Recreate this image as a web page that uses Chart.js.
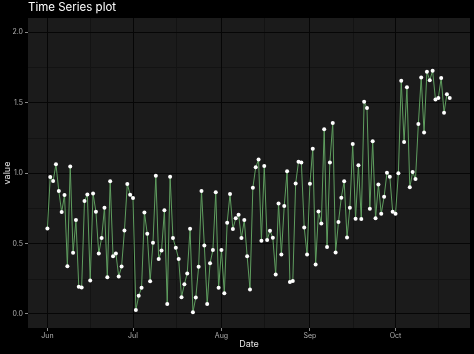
<!DOCTYPE html>
<html>
<head>
<meta charset="utf-8">
<script src="https://cdn.jsdelivr.net/npm/chart.js@4"></script>
<style>
  html, body { margin: 0; padding: 0; background: #000; }
  #wrap { width: 474px; height: 354px; }
</style>
</head>
<body>
<div id="wrap"><canvas id="chart" width="474" height="354"></canvas></div>
<script>
// daily values, one per day starting Jun 1
const values = [
  0.607, 0.972, 0.943, 1.062, 0.872, 0.723, 0.844, 0.339, 1.047, 0.434,
  0.666, 0.192, 0.187, 0.801, 0.848, 0.237, 0.855, 0.725, 0.429, 0.538,
  0.754, 0.261, 0.941, 0.410, 0.429, 0.265, 0.336, 0.592, 0.922, 0.846,
  0.822, 0.028, 0.128, 0.185, 0.720, 0.569, 0.232, 0.505, 0.981, 0.389,
  0.450, 0.735, 0.071, 0.974, 0.538, 0.469, 0.389, 0.118, 0.211, 0.287,
  0.604, 0.012, 0.116, 0.334, 0.872, 0.486, 0.071, 0.360, 0.453, 0.863,
  0.185, 0.453, 0.147, 0.647, 0.851, 0.602, 0.678, 0.704, 0.538, 0.666,
  0.410, 0.174, 0.895, 1.040, 1.095, 0.520, 1.050, 0.525, 0.590, 0.540,
  0.280, 0.783, 0.422, 0.766, 1.013, 0.226, 0.233, 0.925, 1.079, 1.074,
  0.613, 0.421, 0.923, 1.172, 0.350, 0.726, 0.641, 1.310, 0.474, 1.074,
  1.355, 0.435, 0.652, 0.825, 0.941, 0.543, 0.754, 1.206, 0.675, 1.055,
  0.673, 1.505, 1.462, 0.746, 1.225, 0.678, 0.919, 0.711, 0.832, 1.002,
  0.974, 0.725, 0.711, 0.998, 1.654, 1.220, 1.609, 0.898, 1.007, 0.957,
  1.348, 1.678, 1.287, 1.718, 1.659, 1.725, 1.521, 1.533, 1.675, 1.427,
  1.559, 1.533,
]

// month starts as day offsets from Jun 1
const monthTicks = [0, 30, 61, 92, 122]
const monthLabels = ['Jun', 'Jul', 'Aug', 'Sep', 'Oct']
const midMonthDays = [15, 45, 76, 107, 137]

const yTicks = [0, 0.5, 1, 1.5, 2]
const yMinor = [0.25, 0.75, 1.25, 1.75]

const points = values.map((v, i) => ({ x: i, y: v }))

const FONT = 'Inter'

// panel background, minor grid and title
const panelPlugin = {
  id: 'panel',
  beforeDraw(chart) {
    const { ctx, chartArea: a } = chart
    ctx.save()
    ctx.fillStyle = '#000'
    ctx.fillRect(0, 0, chart.width, chart.height)
    ctx.fillStyle = '#1b1b1b'
    ctx.fillRect(a.left, a.top, a.right - a.left, a.bottom - a.top)

    // minor grid lines
    const xs = chart.scales.x
    const ys = chart.scales.y
    ctx.strokeStyle = '#131313'
    ctx.lineWidth = 1
    ctx.beginPath()
    for (let d of midMonthDays) {
      const px = Math.round(xs.getPixelForValue(d)) + 0.5
      if (px < a.left || px > a.right) continue
      ctx.moveTo(px, a.top)
      ctx.lineTo(px, a.bottom)
    }
    for (let v of yMinor) {
      const py = Math.round(ys.getPixelForValue(v)) + 0.5
      ctx.moveTo(a.left, py)
      ctx.lineTo(a.right, py)
    }
    ctx.stroke()

    // title
    ctx.fillStyle = '#ffffff'
    ctx.font = `11.5px ${FONT}`
    ctx.textBaseline = 'middle'
    ctx.textAlign = 'left'
    ctx.fillText('Time Series plot', a.left, 8)
    ctx.restore()
  },
}

new Chart(document.getElementById('chart'), {
  type: 'line',
  data: {
    datasets: [
      {
        label: 'value',
        data: points,
        borderColor: '#5f9e5f',
        borderWidth: 1,
        pointRadius: 2,
        pointBackgroundColor: '#ffffff',
        pointBorderWidth: 0,
        tension: 0,
      },
    ],
  },
  options: {
    responsive: false,
    animation: false,
    layout: { padding: { left: 0, right: 4, top: 18, bottom: 0 } },
    plugins: {
      legend: { display: false },
      tooltip: { enabled: false },
      title: { display: false },
    },
    scales: {
      x: {
        type: 'linear',
        min: -6.8,
        max: 148.1,
        afterBuildTicks: (scale) => {
          scale.ticks = monthTicks.map((v) => ({ value: v }))
        },
        afterFit: (scale) => {
          scale.height = 26
        },
        ticks: {
          autoSkip: false,
          maxRotation: 0,
          padding: 1,
          color: '#b0b0b0',
          font: { family: FONT, size: 7 },
          callback: (value, index) => monthLabels[index],
        },
        grid: {
          color: '#060606',
          lineWidth: 1,
          tickColor: '#8a8a8a',
          tickLength: 3,
        },
        border: { display: false },
        title: {
          display: true,
          text: 'Date',
          color: '#e6e6e6',
          font: { family: FONT, size: 9 },
          padding: { top: 0, bottom: 4 },
        },
      },
      y: {
        type: 'linear',
        min: -0.1,
        max: 2.1,
        afterBuildTicks: (scale) => {
          scale.ticks = yTicks.map((v) => ({ value: v }))
        },
        afterFit: (scale) => {
          scale.width = 28
        },
        ticks: {
          padding: 2,
          color: '#b0b0b0',
          font: { family: FONT, size: 7 },
          callback: (value) => value.toFixed(1),
        },
        grid: {
          color: '#060606',
          lineWidth: 1,
          tickColor: '#8a8a8a',
          tickLength: 3,
        },
        border: { display: false },
        title: {
          display: true,
          text: 'value',
          color: '#e6e6e6',
          font: { family: FONT, size: 9 },
          padding: { top: 2, bottom: 0 },
        },
      },
    },
  },
  plugins: [panelPlugin],
})
</script>
</body>
</html>
